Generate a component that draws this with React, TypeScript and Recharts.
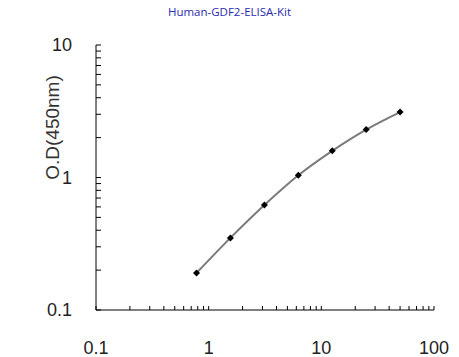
import { LineChart, Line, XAxis, YAxis, Label } from 'recharts'

// standard curve: concentration (ng/ml) vs O.D 450nm
const concentrations = [0.78, 1.56, 3.125, 6.25, 12.5, 25, 50]
const odValues = [0.19, 0.35, 0.62, 1.04, 1.59, 2.3, 3.12]

const xDecades = [0.1, 1, 10, 100]
const yDecades = [0.1, 1, 10]

const logTicks = (from: number, to: number) => {
  const out: number[] = []
  for (let d = from; d < to; d *= 10) {
    for (let m = 1; m < 10; m++) out.push(+(d * m).toPrecision(3))
  }
  out.push(to)
  return out
}

const xTicks = logTicks(0.1, 100)
const yTicks = logTicks(0.1, 10)

const data = concentrations.map((c, i) => ({ conc: c, od: odValues[i] }))

const FONT = '"Liberation Sans", Arial, sans-serif'

const XTick = ({ x, y, payload }: any) => {
  const isMajor = xDecades.includes(payload.value)
  return (
    <g>
      <line x1={x} x2={x} y1={y} y2={y - 4} stroke="#000" strokeWidth={1} />
      {isMajor && (
        <text x={x} y={y + 44} textAnchor="middle" fontSize={18} fill="#222" fontFamily={FONT}>
          {payload.value}
        </text>
      )}
    </g>
  )
}

const YTick = ({ x, y, payload }: any) => {
  const isMajor = yDecades.includes(payload.value)
  return (
    <g>
      <line x1={x} x2={x + 5} y1={y} y2={y} stroke="#000" strokeWidth={1} />
      {isMajor && (
        <text x={x - 24} y={y + 6} textAnchor="end" fontSize={18} fill="#222" fontFamily={FONT}>
          {payload.value}
        </text>
      )}
    </g>
  )
}

const Diamond = ({ cx, cy }: any) => (
  <polygon
    points={`${cx},${cy - 3.5} ${cx + 3.5},${cy} ${cx},${cy + 3.5} ${cx - 3.5},${cy}`}
    fill="#000"
  />
)

export default function App() {
  return (
    <div style={{ position: 'absolute', left: 0, top: 0, width: 459, height: 357, background: '#fff' }}>
      <div
        style={{
          position: 'absolute',
          top: 4,
          left: 0,
          width: 459,
          textAlign: 'center',
          fontFamily: '"Open Sans", sans-serif',
          fontSize: 11.5,
          color: '#2b2bb0',
        }}
      >
        Human-GDF2-ELISA-Kit
      </div>
      <LineChart
        width={459}
        height={357}
        data={data}
        margin={{ top: 45, right: 25, bottom: 0, left: 0 }}
      >
        <XAxis
          dataKey="conc"
          type="number"
          scale="log"
          domain={[0.1, 100]}
          ticks={xTicks}
          interval={0}
          tick={<XTick />}
          tickLine={false}
          tickSize={0}
          tickMargin={0}
          stroke="#000"
          height={47}
          allowDataOverflow
        />
        <YAxis
          dataKey="od"
          type="number"
          scale="log"
          domain={[0.1, 10]}
          ticks={yTicks}
          interval={0}
          tick={<YTick />}
          tickLine={false}
          tickSize={0}
          tickMargin={0}
          stroke="#000"
          width={96}
          allowDataOverflow
        >
          <Label
            value="O.D(450nm)"
            angle={-90}
            position="insideLeft"
            offset={52}
            style={{ fontSize: 19, fill: '#333', fontFamily: FONT, textAnchor: 'middle' }}
            dy={-50}
          />
        </YAxis>
        <Line
          type="monotone"
          dataKey="od"
          stroke="#7a7a7a"
          strokeWidth={2}
          dot={<Diamond />}
          activeDot={false}
          isAnimationActive={false}
        />
      </LineChart>
    </div>
  )
}
